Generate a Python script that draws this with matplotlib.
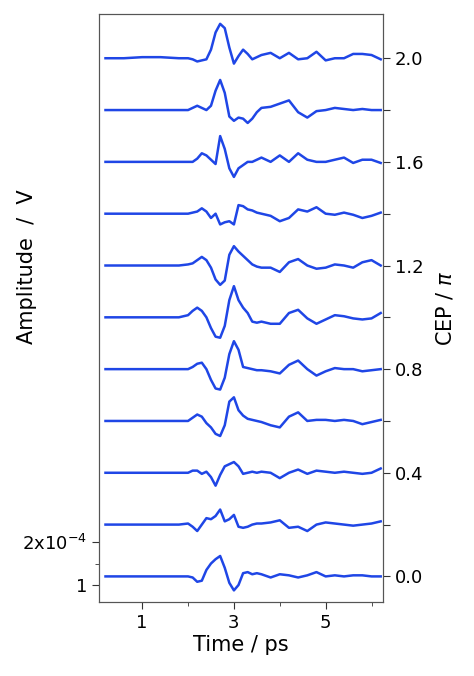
import numpy as np
import matplotlib
matplotlib.use('Agg')
import matplotlib.pyplot as plt
from matplotlib.ticker import FixedLocator, FuncFormatter

# time axis (ps)
t = [0.2, 0.6, 1.0, 1.4, 1.8, 2.0, 2.1, 2.2, 2.3, 2.4, 2.5, 2.6, 2.7, 2.8, 2.9, 3.0,
     3.1, 3.2, 3.3, 3.4, 3.5, 3.6, 3.8, 4.0, 4.2, 4.4, 4.6, 4.8, 5.0, 5.2, 5.4, 5.6,
     5.8, 6.0, 6.2]

# CEP values (units of pi) of each trace
cep = [0.0, 0.2, 0.4, 0.6, 0.8, 1.0, 1.2, 1.4, 1.6, 1.8, 2.0]

# amplitudes (1e-4 V), one list per CEP
amp_00 = [0, 0, 0, 0, 0, 0, -0.05, -0.25, -0.2, 0.3, 0.6, 0.8, 0.95, 0.4, -0.3, -0.65, -0.4, 0.15, 0.2, 0.1, 0.15, 0.1, -0.05, 0.1, 0.05, -0.05, 0.05, 0.2, 0, 0.05, 0, 0.05, 0.05, 0, 0]
amp_02 = [0, 0, 0, 0, 0, 0.05, -0.1, -0.3, 0, 0.3, 0.25, 0.4, 0.7, 0.15, 0.25, 0.45, -0.1, -0.15, -0.1, 0, 0.05, 0.05, 0.1, 0.2, -0.15, -0.1, -0.3, 0, 0.1, 0.05, 0, -0.05, 0, 0.05, 0.15]
amp_04 = [0, 0, 0, 0, 0, 0, 0.1, 0.1, -0.05, 0.05, -0.2, -0.6, -0.1, 0.3, 0.4, 0.5, 0.3, -0.05, 0, 0.05, 0, 0.05, 0, -0.25, 0, 0.15, -0.05, 0.1, 0.05, 0, 0.05, 0, -0.05, 0, 0.2]
amp_06 = [0, 0, 0, 0, 0, 0, 0.15, 0.3, 0.2, -0.1, -0.3, -0.6, -0.7, -0.2, 0.9, 1.1, 0.5, 0.25, 0.1, 0.05, 0, -0.05, -0.2, -0.3, 0.2, 0.4, 0, 0.05, 0.05, 0, 0.05, 0, -0.15, -0.05, 0.05]
amp_08 = [0, 0, 0, 0, 0, 0, 0.1, 0.25, 0.3, 0, -0.5, -0.9, -0.95, -0.4, 0.7, 1.3, 0.9, 0.1, 0.05, 0, -0.05, -0.05, -0.1, -0.2, 0.2, 0.4, 0, -0.3, -0.1, 0.05, 0, 0, -0.1, -0.05, 0]
amp_10 = [0, 0, 0, 0, 0, 0.1, 0.3, 0.45, 0.3, 0, -0.5, -0.9, -0.95, -0.4, 0.8, 1.45, 0.8, 0.45, 0.2, -0.2, -0.25, -0.2, -0.3, -0.3, 0.2, 0.35, -0.05, -0.3, -0.1, 0.1, 0.05, -0.05, -0.1, -0.05, 0.2]
amp_12 = [0, 0, 0, 0, 0, 0.05, 0.1, 0.25, 0.4, 0.25, -0.1, -0.65, -0.9, -0.7, 0.5, 0.9, 0.65, 0.45, 0.25, 0.05, -0.05, -0.1, -0.1, -0.3, 0.15, 0.3, 0, -0.15, -0.1, 0.05, 0, -0.1, 0.15, 0.25, 0]
amp_14 = [0, 0, 0, 0, 0, 0, 0.05, 0.1, 0.25, 0.1, -0.2, 0, -0.5, -0.4, -0.35, -0.5, 0.4, 0.35, 0.2, 0.15, 0.05, 0, -0.1, -0.35, -0.2, 0.2, 0.1, 0.3, 0, -0.05, 0.05, -0.05, -0.2, -0.1, 0.05]
amp_16 = [0, 0, 0, 0, 0, 0, 0, 0.15, 0.4, 0.3, 0.1, -0.1, 1.2, 0.6, -0.3, -0.7, -0.3, -0.15, 0, 0, 0.1, 0.2, 0, 0.3, 0, 0.4, 0.1, 0, 0, 0.1, 0.2, -0.05, 0.1, 0.1, -0.05]
amp_18 = [0, 0, 0, 0, 0, 0, 0.1, 0.2, 0.1, 0, 0.2, 0.9, 1.4, 0.8, -0.3, -0.5, -0.35, -0.4, -0.6, -0.4, -0.1, 0.1, 0.15, 0.3, 0.45, -0.1, -0.35, -0.05, 0, 0.1, 0.05, 0, 0.05, 0, 0]
amp_20 = [0, 0, 0.05, 0.05, 0, 0, -0.05, -0.15, -0.1, -0.05, 0.4, 1.2, 1.6, 1.4, 0.5, -0.25, 0.1, 0.4, 0.2, -0.05, 0.05, 0.15, 0.25, 0, 0.25, -0.05, 0, 0.3, -0.1, 0, 0, 0.2, 0.2, 0.15, -0.05]

traces = [amp_00, amp_02, amp_04, amp_06, amp_08, amp_10, amp_12, amp_14, amp_16, amp_18, amp_20]

scale = 0.083  # CEP units per 1e-4 V
color = '#1f46e6'

fig = plt.figure(figsize=(4.74, 6.76), dpi=100)
ax = fig.add_axes([0.209, 0.109, 0.599, 0.870])
ax2 = ax.twinx()

for c, a in zip(cep, traces):
    ax2.plot(t, c + scale * np.array(a), color=color, lw=1.8)

ax.set_xlim(0.06, 6.25)
ax2.set_ylim(-0.10, 2.17)
ax.set_ylim(0.605, 14.28)

# left scale
ax.yaxis.set_major_locator(FixedLocator([1, 2]))
ax.yaxis.set_minor_locator(FixedLocator([1.5]))
ax.set_yticklabels(['1', '2x10$^{-4}$'])
ax.set_ylabel('Amplitude  /  V', fontsize=15, labelpad=4)
ax.yaxis.set_label_coords(-0.22, 0.57)

# right CEP scale
ax2.yaxis.set_major_locator(FixedLocator(cep))
ax2.yaxis.set_major_formatter(FuncFormatter(
    lambda v, p: f'{v:.1f}' if round(v / 0.2) % 2 == 0 else ''))
ax2.set_ylabel('CEP / $\\pi$', fontsize=15, labelpad=8)

ax.set_xticks([1, 3, 5])
ax.set_xticks([2, 4, 6], minor=True)
ax.set_xlabel('Time / ps', fontsize=15, labelpad=2)

for a in (ax, ax2):
    a.tick_params(which='both', direction='out', labelsize=13, length=5, color='#333333')
    a.tick_params(which='minor', length=3)
    for s in a.spines.values():
        s.set_color('#555555')

fig.savefig('out.png', dpi=100)
